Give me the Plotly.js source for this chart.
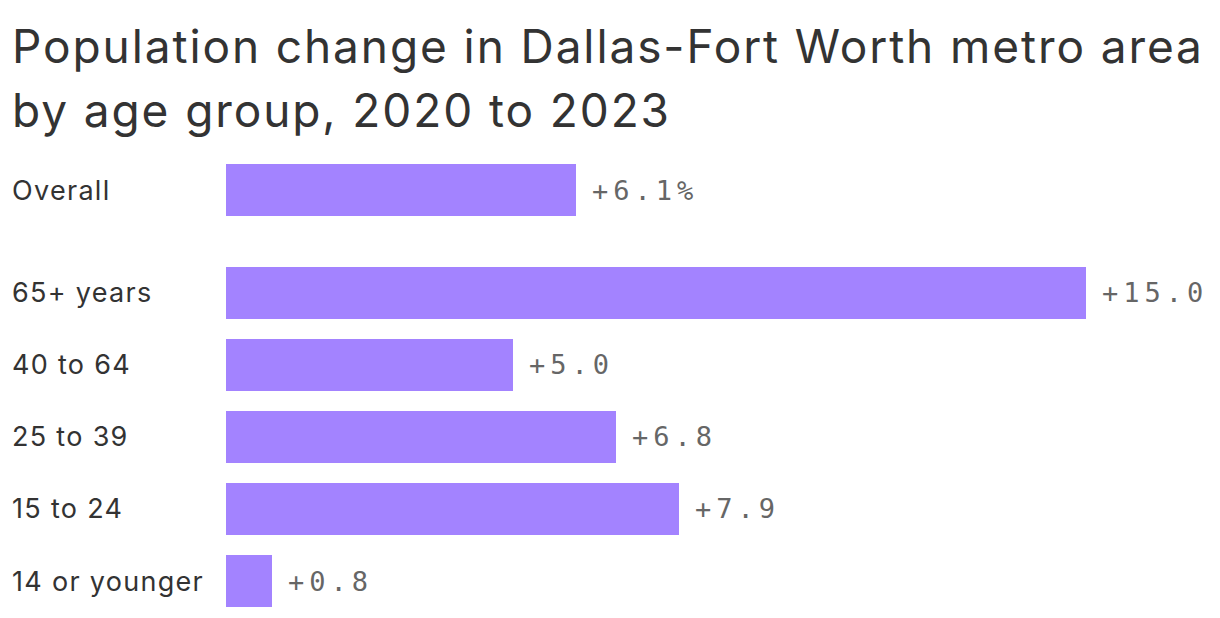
<!DOCTYPE html>
<html><head><meta charset="utf-8">
<script src="https://cdn.plot.ly/plotly-3.0.1.min.js"></script>
<style>
html,body{margin:0;padding:0;background:#fff;}
#chart{width:1220px;height:618px;}
text[style*="DejaVu Sans Mono"]{letter-spacing:5px;}
text[style*="Roboto"]{letter-spacing:1.9px;}
text[style*="Lato"]{letter-spacing:1.3px;}
</style>
</head><body><div id="chart"></div>
<script>
const categories = ["Overall", "65+ years", "40 to 64", "25 to 39", "15 to 24", "14 or younger"];
const values = [6.1, 15.0, 5.0, 6.8, 7.9, 0.8];
const valueLabels = ["+6.1%", "+15.0", "+5.0", "+6.8", "+7.9", "+0.8"];
const titleLines = ["Population change in Dallas-Fort Worth metro area", "by age group, 2020 to 2023"];

// vertical slot: age groups evenly spaced, "Overall" set apart above them
const n = categories.length;
const ypos = categories.map((c, i) => i === 0 ? (n - 2) + 1.43 : (n - 1 - i));

const pxPerUnit = 57.33, x0px = 226, W = 1220;
const xmin = -x0px / pxPerUnit, xmax = (W - x0px) / pxPerUnit;
const plotTop = 154, plotBottom = 617, plotH = plotBottom - plotTop;
const paperY = p => (plotBottom - p) / plotH;

const annotations = [];
titleLines.forEach((t, i) => {
  annotations.push({xref:'paper', yref:'paper', x:10/W, y:paperY(i === 0 ? 46 : 110), xanchor:'left', yanchor:'middle',
    text:t, showarrow:false, font:{family:'Inter, Roboto, sans-serif', size:46, color:'#333333'}});
});
categories.forEach((c, i) => {
  annotations.push({xref:'paper', yref:'y', x:10/W, y:ypos[i], xanchor:'left', yanchor:'middle',
    text:c, showarrow:false, font:{family:'Inter, Lato, sans-serif', size:27, color:'#333333'}});
  annotations.push({xref:'x', yref:'y', x:values[i], y:ypos[i], xanchor:'left', yanchor:'middle', xshift:14,
    text:valueLabels[i], showarrow:false, font:{family:'DejaVu Sans Mono, monospace', size:27, color:'#666666'}});
});

Plotly.newPlot('chart', [{
  type:'bar', orientation:'h', x:values, y:ypos, width:0.71,
  marker:{color:'#a383ff'}, hoverinfo:'skip'
}], {
  width:1220, height:618,
  margin:{l:0, r:0, t:plotTop, b:618 - plotBottom},
  paper_bgcolor:'#ffffff', plot_bgcolor:'#ffffff',
  xaxis:{range:[xmin, xmax], visible:false, fixedrange:true},
  yaxis:{range:[-0.5, 5.93], visible:false, fixedrange:true},
  showlegend:false, bargap:0,
  annotations:annotations
}, {displayModeBar:false, staticPlot:true});
</script>
</body></html>
